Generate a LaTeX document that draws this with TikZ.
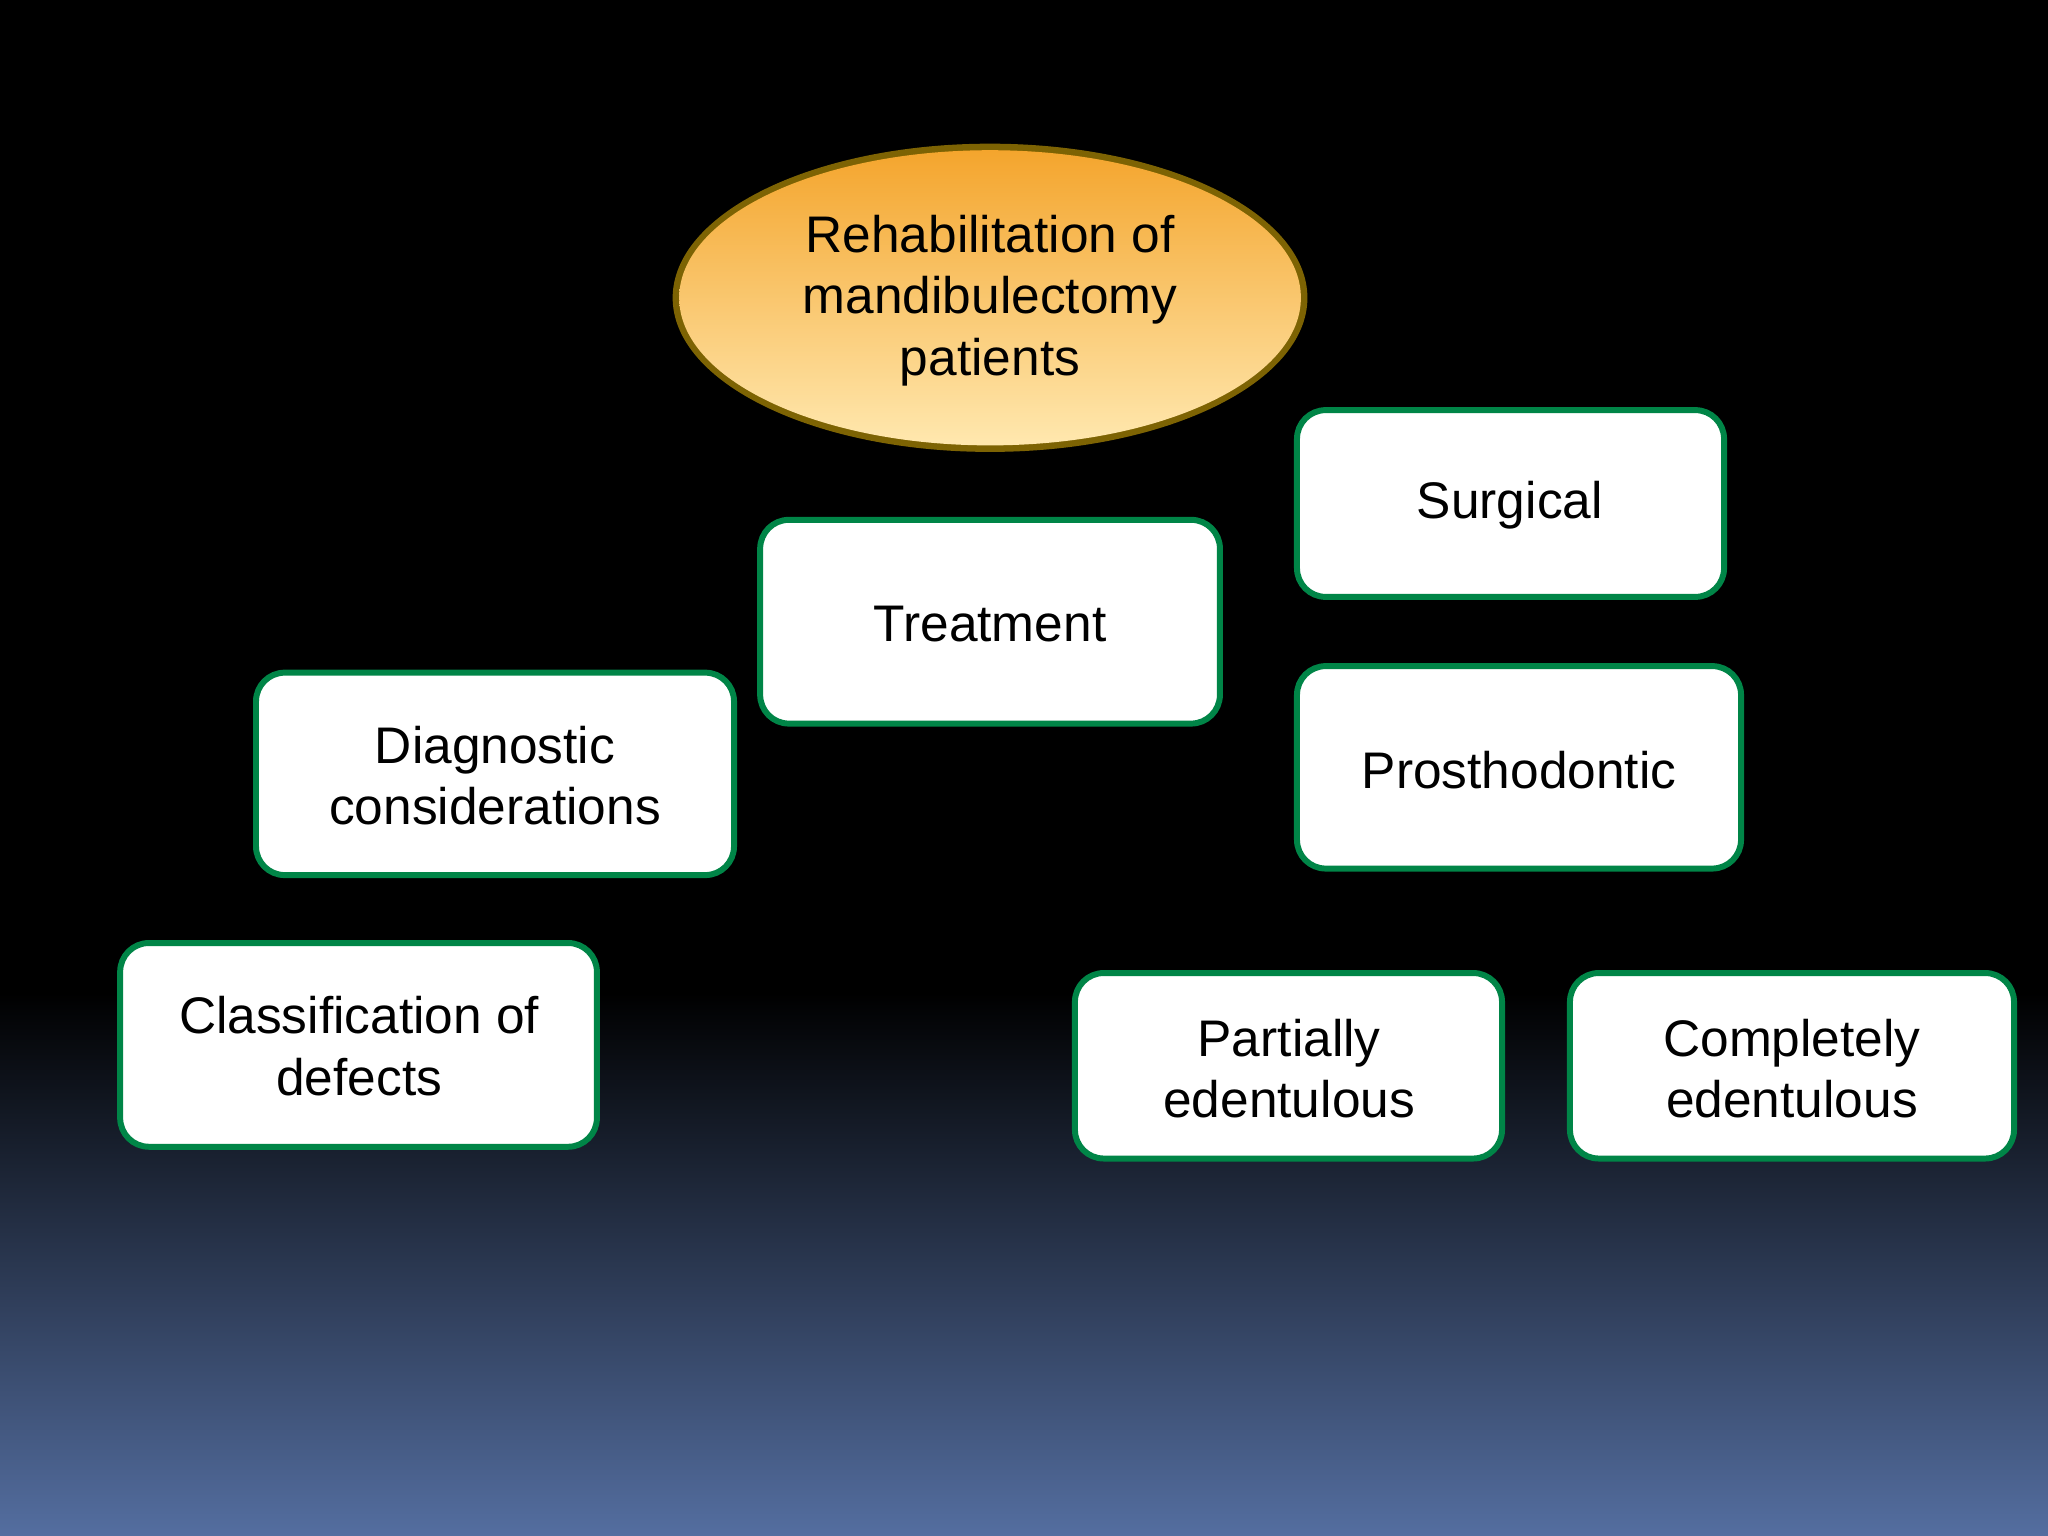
\documentclass[tikz,border=0pt]{standalone}
\usepackage{fontspec}
\setmainfont{Liberation Sans}
\begin{document}
\begin{tikzpicture}[x=0.01cm,y=-0.01cm,
  box/.style={draw=teal!70!green!80!black, line width=1.3pt, fill=white, rounded corners=0.22cm},
  lbl/.style={font=\fontsize{11.2pt}{13.4pt}\selectfont, align=center}]
\useasboundingbox (0,0) rectangle (1568,1176);
\fill[black] (0,0) rectangle (1568,760);
\shade[top color=black, bottom color={rgb,255:red,84;green,110;blue,160}] (0,760) rectangle (1568,1176);
% ellipse
\fill[yellow!60!orange, opacity=0.5] (758,228) ellipse [x radius=243, y radius=118];
\shade[top color={rgb,255:red,244;green,165;blue,45}, bottom color={rgb,255:red,255;green,232;blue,175}] (758,228) ellipse [x radius=238, y radius=113];
\node[lbl] (root) at (758,230) {Rehabilitation of\\mandibulectomy\\patients};
\draw[box] (993,314) rectangle (1320,457); \node[lbl] (surg) at (1156,387) {Surgical};
\draw[box] (582,398) rectangle (934,554); \node[lbl] (treat) at (758,478) {Treatment};
\draw[box] (196,515) rectangle (562,670); \node[lbl] (diag) at (379,594) {Diagnostic\\considerations};
\draw[box] (993,510) rectangle (1333,665); \node[lbl] (pros) at (1163,590) {Prosthodontic};
\draw[box] (92,722) rectangle (457,878); \node[lbl] (cls) at (275,801) {Classification of\\defects};
\draw[box] (823,745) rectangle (1150,887); \node[lbl] (part) at (987,818) {Partially\\edentulous};
\draw[box] (1202,745) rectangle (1542,887); \node[lbl] (comp) at (1372,818) {Completely\\edentulous};
\end{tikzpicture}
\end{document}
